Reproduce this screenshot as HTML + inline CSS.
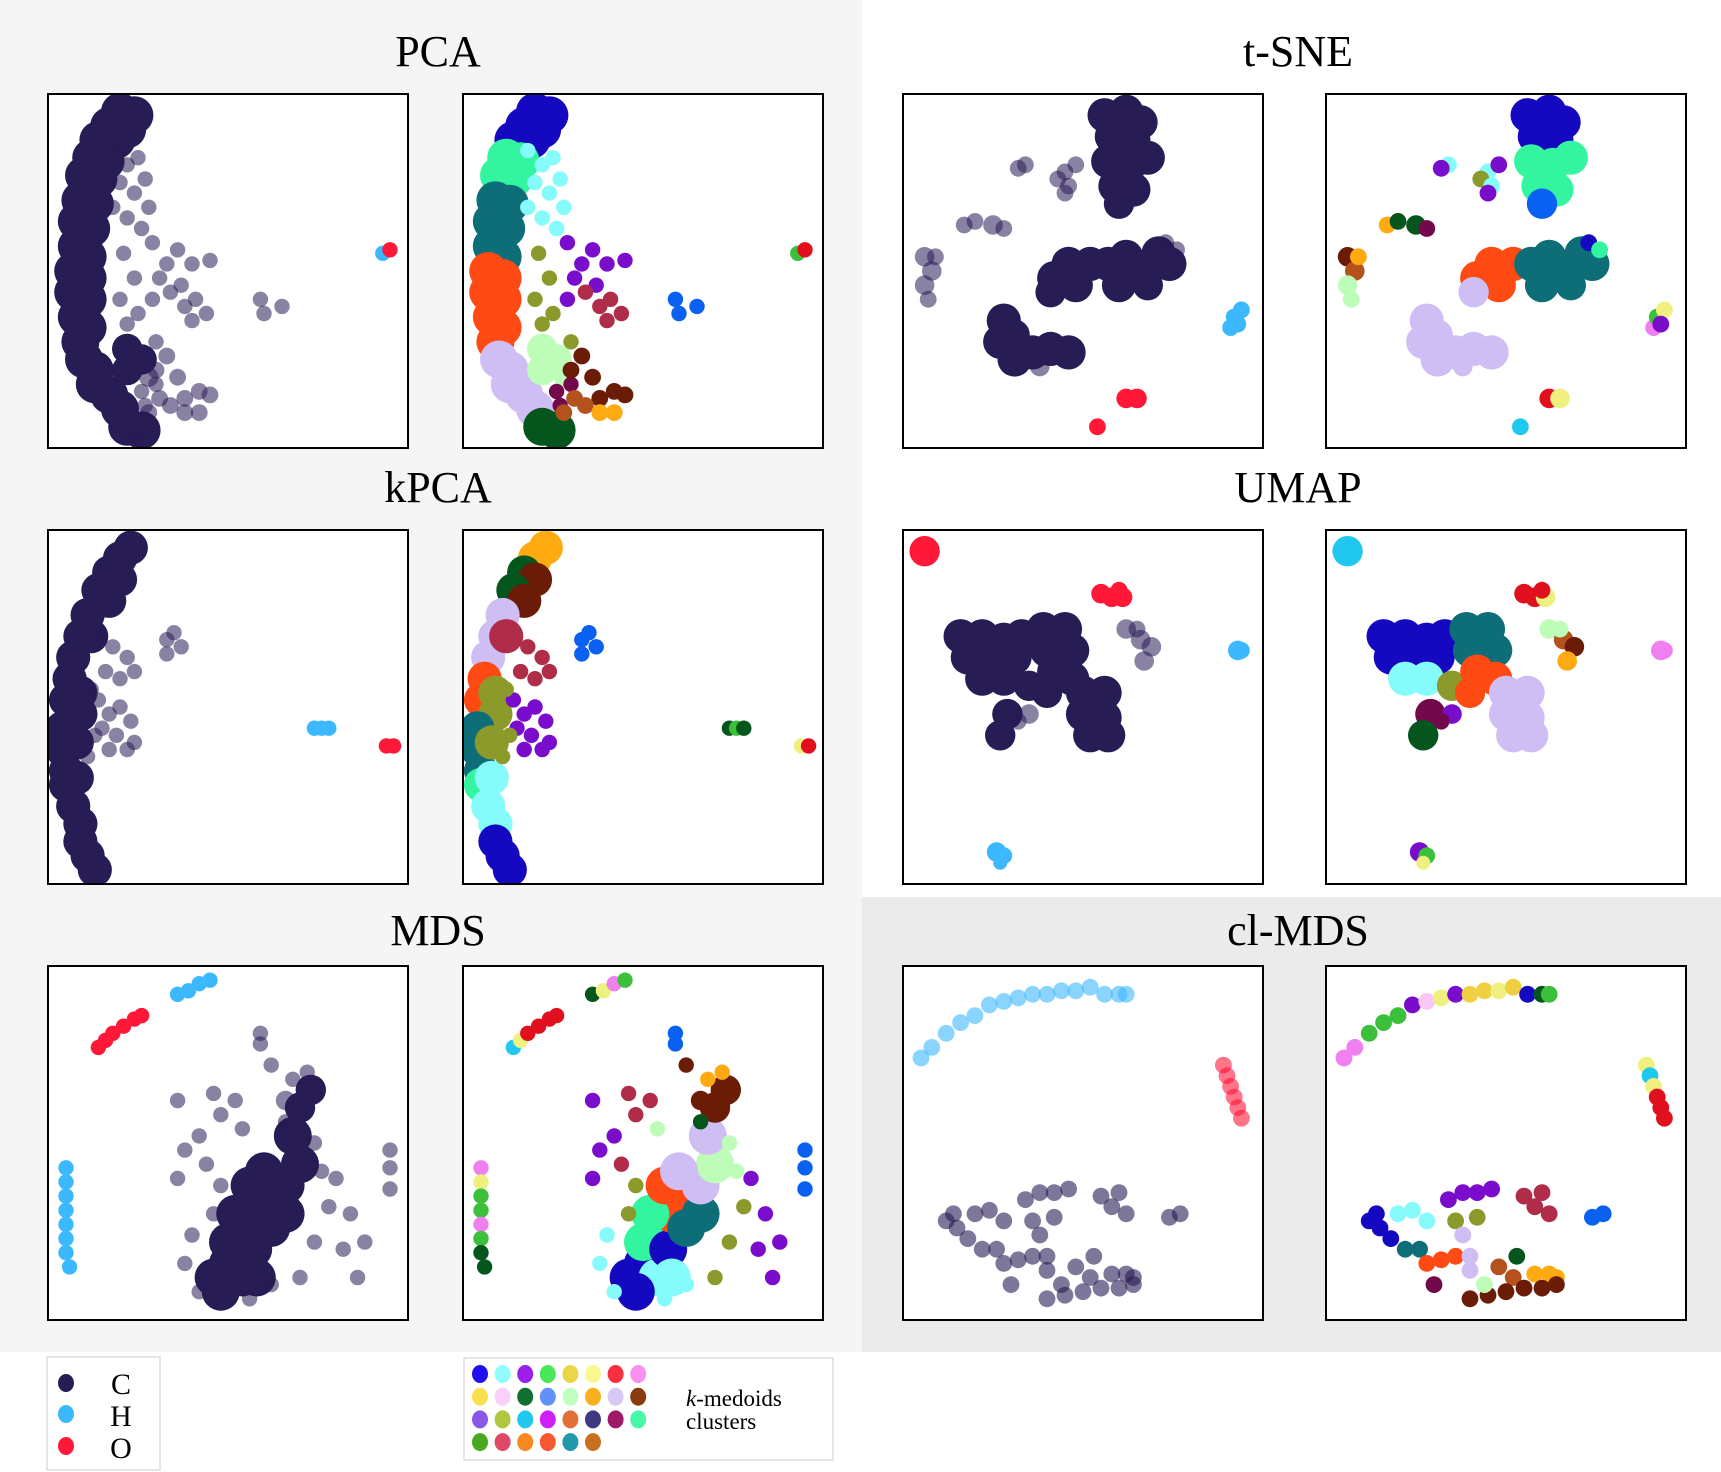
<!DOCTYPE html>
<html><head><meta charset="utf-8"><style>
html,body{margin:0;padding:0;background:#fff}
svg{display:block}
text{font-family:"Liberation Serif",serif}
</style></head><body>
<svg id="fig" width="1721" height="1472" viewBox="0 0 1721 1472" xmlns="http://www.w3.org/2000/svg">
<rect x="0" y="0" width="1721" height="1472" fill="#ffffff"/>
<rect x="0" y="0" width="862" height="1352" fill="#f5f5f5"/>
<rect x="862" y="897" width="859" height="455" fill="#ebebeb"/>
<g id="plots"></g>
<g>
<rect x="47" y="1357" width="113" height="113" fill="#fff" stroke="#dddddd" stroke-width="1.5"/>
<ellipse cx="66" cy="1383" rx="8" ry="9" fill="#281c55"/>
<ellipse cx="66" cy="1414" rx="8" ry="9" fill="#3cb8ff"/>
<ellipse cx="66" cy="1446" rx="8" ry="9" fill="#ff1838"/>
<text x="121" y="1394" font-size="30" text-anchor="middle">C</text>
<text x="121" y="1426" font-size="30" text-anchor="middle">H</text>
<text x="121" y="1458" font-size="30" text-anchor="middle">O</text>
</g>
<g id="clegend">
<rect x="464" y="1358" width="369" height="102" fill="#fff" stroke="#dddddd" stroke-width="1.5"/>
<text x="686" y="1406" font-size="23"><tspan font-style="italic">k</tspan>-medoids</text>
<text x="686" y="1429" font-size="23">clusters</text>
</g>
</svg>
<script>
const speciesColors=["#281c55","#3cb8ff","#ff1838"];
const clusterColors=["#1408c0","#86fbfb","#7a0ccc","#33f5a0","#0e6e78","#ff4a14","#cfbef3","#8b9a2a","#bdfdb8","#b02d4a","#6a1c06","#b4521e","#ffaa10","#05561c","#72094c","#0a60f0","#3cc03c","#e0101e","#20c8f0","#f0f080","#f080f0","#f8c8f8","#f0d040"];
const legendColors=["#2010f0","#90fcfc","#9a20e8","#48e858","#e8d848","#f8f890","#f83040","#f890f0","#f8e050","#f8d0f8","#107030","#6090f8","#c0ffc0","#f8b020","#d8c8f8","#8a3a10","#8858e8","#b0c840","#20c8f0","#d020f8","#e07038","#403880","#a01868","#48f8a8","#48a820","#e04868","#f88820","#f85830","#209aa8","#c87020"];
const methods=["PCA","t-SNE","kPCA","UMAP","MDS","cl-MDS"];
// points: [x%, y%, size, species, cluster]
const pcaPoints=[[20,5,10,0,0],[24,6,10,0,0],[17,9,10,0,0],[22,10,10,0,0],[14,13,10,0,0],[19,13,10,0,0],[12,18,10,0,3],[16,19,10,0,3],[10,23,10,0,3],[14,24,10,0,3],[9,30,10,0,4],[13,31,10,0,4],[8,36,10,0,4],[12,38,10,0,4],[8,43,10,0,4],[11,46,10,0,4],[7,50,10,0,5],[11,52,10,0,5],[7,56,10,0,5],[11,58,10,0,5],[8,63,10,0,5],[11,66,10,0,5],[9,70,10,0,5],[10,75,10,0,6],[13,78,10,0,6],[13,82,10,0,6],[17,85,10,0,6],[20,89,10,0,6],[22,94,10,0,13],[26,95,10,0,13],
[18,16,5.5,0,1],[22,20,5.5,0,1],[25,18,5.5,0,1],[20,25,5.5,0,1],[24,28,5.5,0,1],[27,24,5.5,0,1],[18,32,5.5,0,1],[22,35,5.5,0,1],[26,38,5.5,0,1],[28,32,5.5,0,1],
[29,42,5.5,0,2],[33,48,5.5,0,2],[36,44,5.5,0,2],[31,52,5.5,0,2],[37,54,5.5,0,2],[40,48,5.5,0,2],[45,47,5.5,0,2],[29,58,5.5,0,2],
[34,56,5.5,0,9],[38,60,5.5,0,9],[41,58,5.5,0,9],[40,64,5.5,0,9],[44,62,5.5,0,9],
[21,45,5.5,0,7],[24,52,5.5,0,7],[20,58,5.5,0,7],[25,62,5.5,0,7],[22,65,5.5,0,7],[30,70,5.5,0,7],
[22,72,8,0,8],[26,75,8,0,8],[22,78,8,0,8],[28,80,7,0,8],
[26,84,5.5,0,14],[30,82,5.5,0,14],[27,88,5.5,0,14],
[30,78,6,0,10],[33,74,6,0,10],[36,80,6,0,10],[38,86,6,0,10],[42,84,6,0,10],[45,85,6,0,10],
[31,86,6,0,11],[34,88,6,0,11],[28,90,6,0,11],[38,90,6,0,12],[42,90,6,0,12],[24,96,7,0,13],
[59,58,5.5,0,15],[60,62,5.5,0,15],[65,60,5.5,0,15],[93,45,5.5,1,16],[95,44,5.5,2,17]];
const tsnePoints=[[56,6,9,0,0],[62,5,9,0,0],[66,8,9,0,0],[58,12,9,0,0],[64,13,9,0,0],[57,19,9,0,3],[63,20,9,0,3],[68,18,9,0,3],[59,26,9,0,3],[64,27,9,0,3],[60,31,8,0,15],
[34,20,6,0,1],[32,21,6,0,2],[45,22,6,0,1],[43,24,6,0,7],[48,20,6,0,2],[46,26,6,0,1],[45,28,6,0,2],
[25,37,7,0,13],[28,38,6,0,14],[17,37,6,0,12],[20,36,6,0,13],
[6,46,7,0,10],[8,50,7,0,11],[6,54,7,0,8],[9,46,6,0,12],[7,58,6,0,8],
[42,52,9,0,5],[46,48,9,0,5],[48,54,9,0,5],[52,48,9,0,5],[41,56,8,0,6],[57,48,9,0,4],[62,46,9,0,4],[66,50,9,0,4],[71,45,9,0,4],[74,48,9,0,4],[60,54,9,0,4],[68,54,8,0,4],[73,42,6,0,0],[76,44,6,0,3],
[28,64,9,0,6],[27,70,9,0,6],[31,75,9,0,6],[36,73,9,0,6],[41,72,9,0,6],[46,73,9,0,6],[31,68,8,0,6],[38,77,7,0,6],
[91,66,6,1,20],[92,63,6,1,16],[94,61,6,1,19],[93,65,6,1,2],
[62,86,7,2,17],[65,86,7,2,19],[54,94,6,2,18]];
const kpcaPoints=[[23,5,9,0,12],[20,8,9,0,12],[17,12,9,0,13],[20,14,9,0,10],[14,17,9,0,13],[17,20,9,0,10],[11,24,9,0,6],[9,30,9,0,6],[7,36,9,0,6],[12,30,9,0,9],[6,42,9,0,5],[5,48,9,0,5],[9,46,9,0,7],[9,52,9,0,7],[4,56,9,0,4],[4,62,9,0,4],[5,68,9,0,4],[8,60,9,0,7],[5,72,9,0,3],[8,70,9,0,1],[7,78,9,0,1],[9,83,9,0,1],[9,88,9,0,0],[11,92,9,0,0],[13,96,9,0,0],
[14,30,5.5,0,9],[18,33,5.5,0,9],[22,36,5.5,0,9],[16,40,5.5,0,9],[20,42,5.5,0,9],[24,40,5.5,0,9],[14,48,5.5,0,2],[17,52,5.5,0,2],[20,50,5.5,0,2],[15,56,5.5,0,2],[19,58,5.5,0,2],[23,54,5.5,0,2],[17,62,5.5,0,2],[12,45,5.5,0,7],[13,58,5.5,0,7],[11,64,5.5,0,7],[22,62,5.5,0,2],[24,60,5.5,0,2],
[33,31,5.5,0,15],[35,29,5.5,0,15],[37,33,5.5,0,15],[33,35,5.5,0,15],
[74,56,5.5,1,13],[76,56,5.5,1,16],[78,56,5.5,1,13],[94,61,5.5,2,19],[96,61,5.5,2,17]];
const umapPoints=[[6,6,8,2,18],[7,5,6,2,18],[55,18,7,2,17],[58,19,7,2,17],[61,19,7,2,19],[60,17,6,2,17],[93,34,7,1,20],[94,34,6,1,20],[26,91,7,1,2],[28,92,6,1,16],[27,94,5,1,19],
[16,30,9,0,0],[22,30,9,0,0],[28,31,9,0,0],[33,30,9,0,0],[18,36,9,0,0],[25,37,9,0,0],[31,36,9,0,0],[22,42,9,0,1],[28,42,9,0,1],[35,44,8,0,7],
[39,28,9,0,4],[45,28,9,0,4],[40,34,9,0,4],[47,34,9,0,4],[42,40,9,0,5],[47,42,9,0,5],[40,46,8,0,5],
[50,46,9,0,6],[56,46,9,0,6],[50,52,9,0,6],[56,53,9,0,6],[52,58,9,0,6],[57,58,9,0,6],
[29,52,8,0,14],[27,58,8,0,13],[35,52,7,0,2],[32,54,6,0,14],
[62,28,7,0,8],[66,31,7,0,11],[69,33,7,0,10],[67,37,7,0,12],[65,28,6,0,8]];
const mdsPoints=[[36,8,5.5,1,13],[39,7,5.5,1,19],[42,5,5.5,1,20],[45,4,5.5,1,16],
[14,23,5.5,2,18],[16,21,5.5,2,19],[18,19,5.5,2,17],[21,17,5.5,2,17],[24,15,5.5,2,17],[26,14,5.5,2,17],
[5,57,5.5,1,20],[5,61,5.5,1,19],[5,65,5.5,1,16],[5,69,5.5,1,16],[5,73,5.5,1,20],[5,77,5.5,1,16],[5,81,5.5,1,13],[6,85,5.5,1,13],
[59,19,5.5,0,15],[59,22,5.5,0,15],
[46,88,10,0,0],[50,84,10,0,0],[54,88,10,0,1],[50,78,10,0,3],[54,74,10,0,3],[57,80,10,0,0],[58,70,10,0,5],[62,66,10,0,5],[62,74,10,0,4],[66,70,10,0,4],[66,62,10,0,6],[70,56,10,0,8],[68,48,10,0,6],[70,40,8,0,10],[73,35,8,0,10],[66,38,7,0,10],
[52,70,10,0,3],[56,62,10,0,5],[60,58,10,0,6],[48,92,10,0,0],[58,88,10,0,1],
[38,52,5.5,0,2],[42,48,5.5,0,2],[36,60,5.5,0,2],[44,56,5.5,0,9],[48,42,5.5,0,9],[52,38,5.5,0,9],[46,36,5.5,0,9],[54,46,5.5,0,8],[74,50,5.5,0,8],[76,58,5.5,0,8],[80,60,5.5,0,2],[84,70,5.5,0,2],[82,80,5.5,0,2],[86,88,5.5,0,2],[78,68,5.5,0,7],[48,62,5.5,0,7],[46,70,5.5,0,7],[40,76,5.5,0,1],[38,84,5.5,0,1],[42,92,5.5,0,1],[56,94,5.5,0,1],[62,90,5.5,0,1],[70,88,5.5,0,7],[74,78,5.5,0,7],[68,32,5.5,0,12],[72,30,5.5,0,12],[62,28,5.5,0,10],[66,44,5.5,0,13],[95,52,5.5,0,15],[95,57,5.5,0,15],[95,63,5.5,0,15],[88,78,5.5,0,2],[36,38,5.5,0,2]];
const clmdsPoints=[[5,26,6,1,20],[8,23,6,1,20],[12,19,6,1,16],[16,16,6,1,16],[20,14,6,1,16],[24,11,6,1,2],[28,10,6,1,21],[32,9,6,1,19],[36,8,6,1,2],[40,8,6,1,22],[44,7,6,1,22],[48,7,6,1,19],[52,6,6,1,22],[56,8,6,1,0],[60,8,6,1,13],[62,8,6,1,16],
[89,28,6,2,19],[90,31,6,2,18],[91,34,6,2,19],[92,37,6,2,17],[93,40,6,2,17],[94,43,6,2,17],
[12,72,6,0,0],[15,74,6,0,0],[18,77,6,0,0],[14,70,6,0,0],[20,70,6,0,1],[24,69,6,0,1],[28,72,6,0,1],[22,80,6,0,4],[26,80,6,0,4],[28,84,6,0,5],[32,83,6,0,5],[36,82,6,0,5],[34,66,6,0,2],[38,64,6,0,2],[42,64,6,0,2],[46,63,6,0,2],[36,72,6,0,7],[42,71,6,0,7],[38,76,6,0,6],[40,82,6,0,6],[40,86,6,0,6],[48,85,6,0,11],[52,88,6,0,11],[53,82,6,0,13],[55,65,6,0,9],[58,68,6,0,9],[62,70,6,0,9],[60,64,6,0,9],[58,87,6,0,12],[62,87,6,0,12],[64,88,6,0,12],[40,94,6,0,10],[45,93,6,0,10],[50,92,6,0,10],[55,91,6,0,10],[60,91,6,0,10],[64,90,6,0,10],[44,90,6,0,8],[30,90,6,0,14],[74,71,6,0,15],[77,70,6,0,15]];
const methodPoints=[pcaPoints,tsnePoints,kpcaPoints,umapPoints,mdsPoints,clmdsPoints];

const NS="http://www.w3.org/2000/svg";
const colX=[[48,463],[903,1326]];
const rowY=[94,530,966];
const titleY=[66,502,945];
const titleX=[438,1298];
const PW=360,PH=354;
const plots=document.getElementById('plots');
const svgEl=document.getElementById('fig');
const defs=document.createElementNS(NS,'defs');svgEl.insertBefore(defs,svgEl.firstChild);
function sx(x0,v){return x0+v/100*PW;}
function sy(y0,v){return y0+v/100*PH;}
function sr(v){return v>=8?v*1.9:v*1.4;}
methods.forEach((m,mi)=>{
  const side=mi%2,row=Math.floor(mi/2);
  const t=document.createElementNS(NS,'text');
  t.setAttribute('x',titleX[side]);t.setAttribute('y',titleY[row]);
  t.setAttribute('font-size','44');t.setAttribute('text-anchor','middle');
  t.textContent=m;
  
  
  plots.appendChild(t);
  [0,1].forEach(k=>{
    const x0=colX[side][k],y0=rowY[row];
    const cid='clip'+mi+'_'+k;
    const cp=document.createElementNS(NS,'clipPath');cp.setAttribute('id',cid);
    const cr=document.createElementNS(NS,'rect');cr.setAttribute('x',x0);cr.setAttribute('y',y0);cr.setAttribute('width',PW);cr.setAttribute('height',PH);
    cp.appendChild(cr);defs.appendChild(cp);
    const g=document.createElementNS(NS,'g');
    
    
    const bg=document.createElementNS(NS,'rect');
    bg.setAttribute('x',x0);bg.setAttribute('y',y0);bg.setAttribute('width',PW);bg.setAttribute('height',PH);bg.setAttribute('fill','#fff');
    g.appendChild(bg);
    const pg=document.createElementNS(NS,'g');pg.setAttribute('clip-path','url(#'+cid+')');
    methodPoints[mi].forEach(p=>{
      const c=document.createElementNS(NS,'circle');
      c.setAttribute('cx',sx(x0,p[0]).toFixed(1));c.setAttribute('cy',sy(y0,p[1]).toFixed(1));
      c.setAttribute('r',sr(p[2]).toFixed(1));
      if(k===0){
        c.setAttribute('fill',speciesColors[p[3]]);
        let op=1;
        if(p[3]===0&&p[2]<8)op=0.55;
        if(mi===5)op=0.6;
        c.setAttribute('fill-opacity',op);
      } else {
        c.setAttribute('fill',clusterColors[p[4]]);
      }
      
      
      pg.appendChild(c);
    });
    g.appendChild(pg);
    const fr=document.createElementNS(NS,'rect');
    fr.setAttribute('x',x0);fr.setAttribute('y',y0);fr.setAttribute('width',PW);fr.setAttribute('height',PH);
    fr.setAttribute('fill','none');fr.setAttribute('stroke','#000');fr.setAttribute('stroke-width','2');
    g.appendChild(fr);
    plots.appendChild(g);
  });
});
const cl=document.getElementById('clegend');
legendColors.forEach((col,i)=>{
  const e=document.createElementNS(NS,'ellipse');
  e.setAttribute('cx',480+(i%8)*22.6);e.setAttribute('cy',1374+Math.floor(i/8)*22.7);
  e.setAttribute('rx',8);e.setAttribute('ry',9);e.setAttribute('fill',col);
  
  
  cl.appendChild(e);
});
</script>
</body></html>
